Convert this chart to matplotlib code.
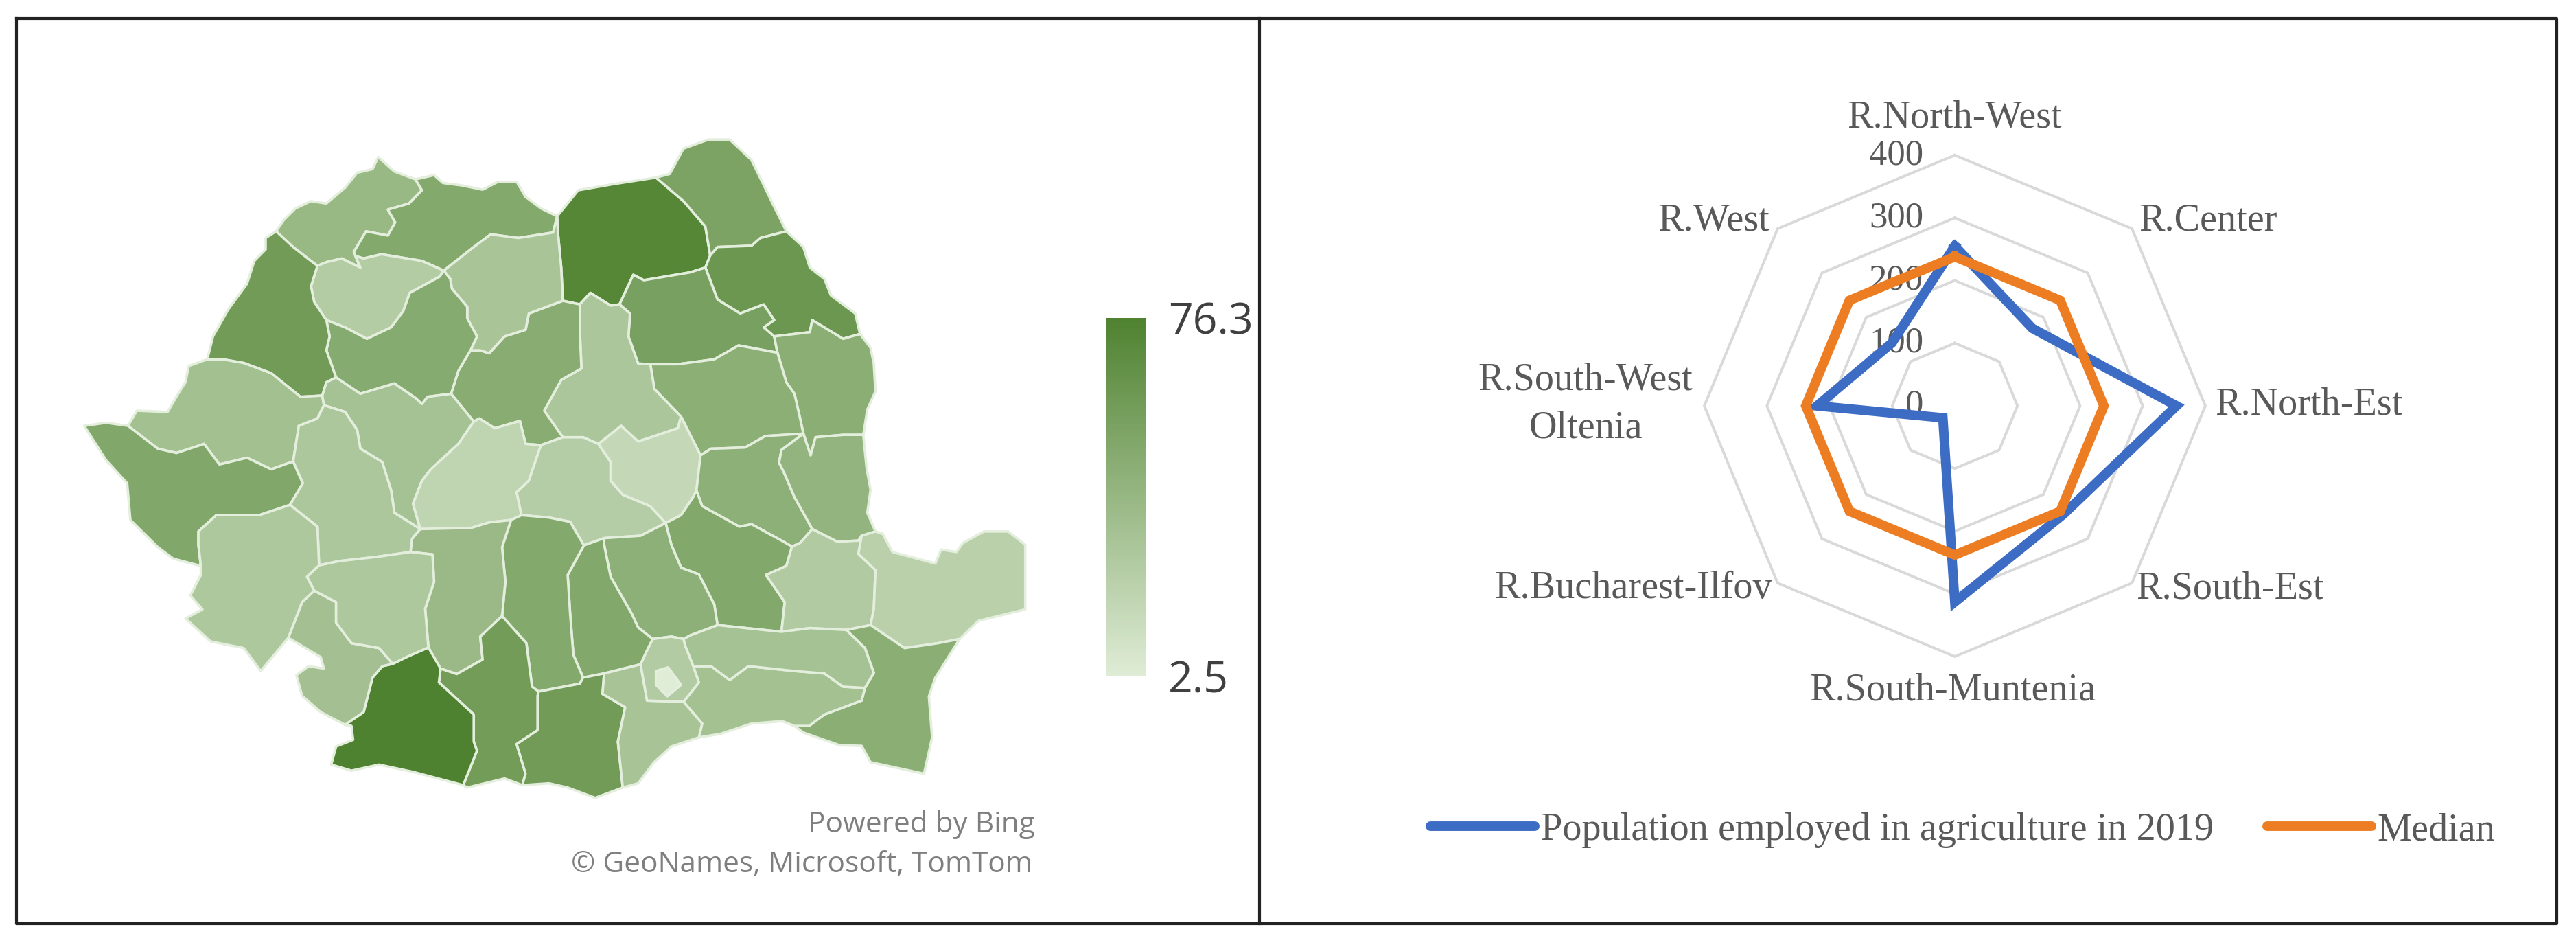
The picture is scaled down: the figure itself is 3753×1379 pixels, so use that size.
import numpy as np
import matplotlib
matplotlib.use("Agg")
import matplotlib.pyplot as plt
from matplotlib.colors import LinearSegmentedColormap, Normalize
from matplotlib.cm import ScalarMappable
from matplotlib.patches import Polygon

W, H = 3753, 1379
plt.rcParams['font.family'] = ['Liberation Serif', 'DejaVu Serif']

# radar chart values
regions = ["R.North-West", "R.Center", "R.North-Est", "R.South-Est", "R.South-Muntenia",
           "R.Bucharest-Ilfov", "R.South-West\nOltenia", "R.West"]
employed = [255, 175, 354, 245, 313, 27, 220, 142]
median = [238, 238, 238, 238, 238, 238, 238, 238]
rings = [100, 200, 300, 400]
radial_ticks = [0, 100, 200, 300, 400]

# map values, per county
scale_low, scale_high = 2.5, 76.3
county_names = ["Satu Mare", "Maramures", "Suceava", "Botosani", "Iasi", "Neamt", "Vaslui", "Bacau",
                "Harghita", "Mures", "Bistrita-Nasaud", "Salaj", "Cluj", "Bihor", "Arad", "Timis",
                "Alba", "Hunedoara", "Sibiu", "Brasov", "Covasna", "Vrancea", "Galati", "Buzau",
                "Braila", "Tulcea", "Constanta", "Calarasi", "Ialomita", "Prahova", "Dambovita",
                "Arges", "Valcea", "Olt", "Teleorman", "Giurgiu", "Ilfov", "Bucuresti", "Dolj",
                "Mehedinti", "Gorj", "Caras-Severin"]
county_values = [39, 49, 73, 53, 61.5, 55, 45.5, 45,
                 29, 47, 30, 25, 48, 59, 33.5, 50.5,
                 32, 28, 19, 24, 16.5, 44.5, 41.5, 50,
                 26, 22, 46, 32.5, 32, 44.5, 50,
                 49, 38, 58, 59, 30.5, 25.5, 2.5, 76.3,
                 33, 27.5, 27.5]
# each county is a ring of border junctions, same order as county_names
county_rings = [
    "A B C F", "B D E C", "D M N Q R S L", "M O N", "N O P T Q", "Q T U V R", "T P BF BE U", "V U BE BC Y",
    "S R V Y BA Z", "L S Z AA AB K J", "D L J E", "F C E G", "G E J K I", "A F G I BB AE", "AE BB AD AG AF",
    "AF AG AI AH", "I K AB AC AD BB", "AD AC AM AK AI AG", "AB AA AV AT AC", "Z BA AY AX AW AV AA",
    "BA Y BC BD AY", "BC BE BG BV BD", "BE BF BJ BI BG", "AY BD BV BU BT", "BG BI BL BN BU BV",
    "BJ BK BL BI", "BL BK BM BO BN", "BR BO BM BP BQ", "BS BT BU BN BO BR", "AX AY BT BS BW",
    "AW AX BW BZ BY BX", "AV AW BX AU AR AT", "AC AT AR AS AN AM", "AR AU CA AQ AS", "AU BX BY CB CA",
    "BY BZ BQ BP CB", "BW BS BR BQ BZ", "X1 X2 X3 X4 X5", "AO AN AS AQ AP", "AL AO AP AJ",
    "AK AM AN AO AL", "AI AK AL AJ AH",
]
# x and y on a 1568 x 1568 grid laid over the left panel
junctions = {
    "A": (341,383), "B": (513,297), "C": (439,424), "D": (688,358), "E": (548,448), "F": (392,440),
    "G": (403,530), "I": (415,625), "J": (581,580), "K": (557,652), "L": (695,498), "M": (810,294),
    "N": (877,423), "O": (971,383), "P": (1062,553), "Q": (871,443), "R": (765,504), "S": (716,504),
    "T": (956,557), "U": (960,584), "V": (803,603), "Y": (841,690), "Z": (695,724), "AA": (668,737),
    "AB": (585,698), "AC": (519,876), "AD": (400,671), "BB": (398,655), "AE": (256,595), "AF": (158,705),
    "AG": (362,764), "AH": (248,937), "AI": (358,836), "AJ": (356,1056), "AK": (394,936), "AL": (388,978),
    "AM": (507,914), "AN": (529,1072), "AO": (485,1099), "AP": (426,1200), "AQ": (572,1300), "AR": (620,1020),
    "AS": (544,1107), "AT": (631,861), "AU": (665,1145), "AV": (644,853), "AW": (721,903), "AX": (746,891),
    "AY": (822,866), "BA": (739,735), "BC": (865,754), "BD": (860,812), "BE": (992,718), "BF": (1066,720),
    "BG": (1003,876), "BI": (1064,887), "BJ": (1081,880), "BK": (1185,1058), "BL": (1075,1035), "BM": (981,1202),
    "BN": (1045,1043), "BO": (1068,1139), "BP": (863,1221), "BQ": (844,1162), "BR": (856,1103), "BS": (844,1058),
    "BT": (886,1035), "BU": (965,1046), "BV": (978,905), "BW": (806,1058), "BX": (720,1122), "BY": (746,1115),
    "BZ": (791,1100), "CA": (645,1300), "CB": (769,1304),
    "X1": (810,1111), "X2": (825,1105), "X3": (841,1134), "X4": (824,1153), "X5": (810,1134),
}
borders = {
    ("A","B"): [(350,365),(365,345),(384,333),(403,337),(426,311),(441,286),(460,280),(467,260),(487,284)],
    ("B","C"): [(521,315),(505,337),(479,347),(488,368),(479,390),(452,383),(437,417)],
    ("C","F"): [(445,443),(422,428),(403,434)],
    ("F","A"): [(384,432),(362,409)],
    ("B","D"): [(536,290),(547,303),(570,307),(596,314),(615,301),(638,301),(649,326),(668,345)],
    ("D","E"): [(683,385),(640,394),(606,388),(585,409),(565,430)],
    ("E","C"): [(521,432),(471,421),(449,428)],
    ("F","G"): [(384,474),(388,500)],
    ("G","E"): [(426,542),(453,561),(483,542),(498,515),(506,485),(543,458)],
    ("G","I"): [(407,557),(403,580)],
    ("E","J"): [(556,462),(558,478),(577,508),(577,527),(589,557)],
    ("J","K"): [(566,614)],
    ("I","K"): [(445,652),(487,635),(513,659),(521,669),(528,657)],
    ("J","L"): [(593,580),(604,585),(623,557),(649,546),(653,519)],
    ("D","L"): [(689,386),(693,443)],
    ("D","M"): [(714,315),(757,305)],
    ("M","N"): [(844,333),(871,375)],
    ("M","O"): [(827,288),(844,246),(875,231),(901,231),(928,265),(954,337)],
    ("N","O"): [(886,409),(928,407),(939,394)],
    ("O","P"): [(992,409),(1000,443),(1018,462),(1026,489),(1056,519)],
    ("Q","R"): [(852,451),(795,464),(782,455)],
    ("R","S"): [(754,506),(729,485)],
    ("Q","T"): [(886,496),(914,519),(943,504),(956,530),(943,542)],
    ("T","P"): [(1000,550),(1003,530),(1041,561)],
    ("U","V"): [(912,572),(882,595),(837,603)],
    ("R","V"): [(778,519),(776,557),(788,602)],
    ("S","Z"): [(716,549),(718,610),(693,629),(672,680)],
    ("V","Y"): [(808,644)],
    ("U","BE"): [(971,633),(981,652),(988,693)],
    ("P","BF"): [(1075,576),(1079,602),(1081,648),(1071,678)],
    ("BE","BF"): [(1001,754),(1007,724),(1041,720)],
    ("BE","BC"): [(945,722),(920,741),(878,743)],
    ("Y","BA"): [(837,709),(788,731),(767,705)],
    ("BA","Z"): [(720,724)],
    ("AA","AB"): [(649,735),(642,697),(611,709),(592,693)],
    ("AB","AC"): [(566,735),(532,777),(521,796),(510,834)],
    ("AC","AD"): [(487,849),(483,812),(472,765),(445,743),(441,712),(426,682)],
    ("AC","AM"): [(509,892)],
    ("I","BB"): [(403,633)],
    ("BB","AE"): [(371,657),(335,618),(301,601),(275,595)],
    ("A","AE"): [(328,394),(328,413),(314,432),(305,470),(282,512),(263,557)],
    ("AE","AF"): [(233,606),(229,633),(220,652),(207,682),(169,680)],
    ("AF","AG"): [(195,743),(218,750),(252,735),(271,769),(305,758),(335,777)],
    ("AD","AG"): [(392,693),(369,705)],
    ("AF","AH"): [(131,700),(104,705),(131,762),(157,800),(161,861),(195,906),(214,925)],
    ("AG","AI"): [(374,800)],
    ("AI","AH"): [(320,853),(267,853),(245,880),(245,902)],
    ("AI","AK"): [(392,872)],
    ("AK","AL"): [(379,955)],
    ("AL","AJ"): [(373,997)],
    ("AH","AJ"): [(248,952),(235,986),(250,1009),(229,1024),(260,1062),(301,1073),(322,1111)],
    ("AK","AM"): [(419,929),(465,922)],
    ("AM","AN"): [(534,918),(536,963),(525,1008)],
    ("AL","AO"): [(415,997),(415,1031),(434,1065),(468,1073)],
    ("AO","AN"): [(505,1086)],
    ("AJ","AP"): [(396,1088),(400,1107),(381,1103),(366,1118),(373,1152),(396,1179)],
    ("AP","AO"): [(449,1179),(460,1122),(472,1103)],
    ("AP","AQ"): [(434,1202),(436,1225),(415,1236),(409,1266),(434,1276),(468,1266),(510,1278)],
    ("AS","AQ"): [(542,1130),(585,1183),(585,1228),(589,1243)],
    ("AS","AR"): [(564,1116),(596,1092),(593,1054)],
    ("AT","AR"): [(620,906),(624,963)],
    ("AC","AT"): [(582,874),(604,865)],
    ("AR","AU"): [(650,1065),(657,1137)],
    ("AA","AV"): [(653,796),(638,815)],
    ("AV","AW"): [(678,857),(704,864)],
    ("AX","AY"): [(791,887)],
    ("BA","AY"): [(754,765),(754,796),(769,819),(803,838)],
    ("BD","AY"): [(856,823),(841,853)],
    ("BE","BG"): [(965,745),(962,766),(969,785),(981,823)],
    ("BG","BI"): [(1034,897),(1060,895)],
    ("BF","BJ"): [(1070,774),(1075,811),(1071,849)],
    ("BJ","BK"): [(1090,884),(1102,914),(1155,933),(1162,910),(1181,914),(1189,899),(1215,880),(1245,880),(1266,902),(1266,1009),(1208,1028)],
    ("BI","BL"): [(1060,917),(1081,944),(1079,1009)],
    ("BL","BK"): [(1117,1073),(1158,1065)],
    ("BK","BM"): [(1155,1122),(1147,1153),(1151,1221),(1141,1281),(1075,1262),(1064,1235),(1037,1234),(992,1213)],
    ("BN","BO"): [(1068,1073),(1079,1114)],
    ("BO","BM"): [(1064,1160),(1018,1183),(999,1202)],
    ("BM","BP"): [(966,1194),(928,1198),(890,1215)],
    ("BP","BQ"): [(867,1198)],
    ("BQ","BR"): [(863,1130)],
    ("BR","BO"): [(878,1103),(901,1126),(924,1103),(981,1111),(1018,1115),(1041,1137)],
    ("BR","BS"): [(846,1069)],
    ("BS","BT"): [(852,1052)],
    ("BT","BU"): [(950,1044)],
    ("BU","BN"): [(1000,1040)],
    ("BU","BV"): [(969,997),(946,952),(971,937)],
    ("BG","BV"): [(988,899)],
    ("BV","BD"): [(965,895),(928,868),(913,872),(867,838)],
    ("AY","BT"): [(829,902),(841,940),(863,951),(882,1001)],
    ("AX","BW"): [(746,902),(754,955),(780,1016),(788,1039)],
    ("BW","BS"): [(829,1054)],
    ("AW","BX"): [(701,952),(704,1016),(708,1084)],
    ("BW","BZ"): [(799,1077)],
    ("BZ","BQ"): [(799,1160)],
    ("BX","AU"): [(716,1132)],
    ("AU","CA"): [(664,1152),(664,1209),(638,1232),(649,1281)],
    ("AQ","CA"): [(577,1304),(623,1289)],
    ("BY","CB"): [(744,1149),(772,1171),(763,1228)],
    ("CA","CB"): [(678,1297),(701,1304),(735,1321)],
    ("CB","BP"): [(788,1297),(807,1263),(829,1236)],
}

def outline(ring):
    nodes = ring.split()
    pts = []
    for u, v in zip(nodes, nodes[1:] + nodes[:1]):
        pts.append(junctions[u])
        if (u, v) in borders:
            pts += borders[(u, v)]
        elif (v, u) in borders:
            pts += borders[(v, u)][::-1]
    return pts

fig = plt.figure(figsize=(W / 100, H / 100), dpi=100, facecolor="white")

def px_axes(x0, y0, x1, y1, **kw):
    # axes from pixel box, y measured from the top
    return fig.add_axes([x0 / W, 1 - y1 / H, (x1 - x0) / W, (y1 - y0) / H], **kw)

# left panel, map
map_ax = px_axes(0, 0, 1850, H)
map_ax.set_xlim(0, 1568)
map_ax.set_ylim(1568, 0)
map_ax.axis("off")

cmap = LinearSegmentedColormap.from_list("greens_xl", ["#dfecd6", "#4f8230"])
norm = Normalize(scale_low, scale_high)
for name, value, ring in zip(county_names, county_values, county_rings):
    map_ax.add_patch(Polygon(outline(ring), closed=True, facecolor=cmap(norm(value)),
                             edgecolor="#e4eedd", linewidth=2.6, joinstyle="round", label=name))

map_font = ['Open Sans', 'DejaVu Sans']
map_ax.text(1278, 1365, "Powered by Bing", ha="right", va="center", color="#7f7f7f",
            fontsize=30.5, family=map_font)
map_ax.text(1275, 1432, "© GeoNames, Microsoft, TomTom", ha="right", va="center", color="#7f7f7f",
            fontsize=30.5, family=map_font)

# colour scale
bar_ax = px_axes(1611, 463, 1670, 985)
cbar = fig.colorbar(ScalarMappable(norm=norm, cmap=cmap), cax=bar_ax)
cbar.outline.set_visible(False)
cbar.set_ticks([scale_low, scale_high], labels=["2.5", "76.3"])
cbar.ax.tick_params(length=0, pad=23, labelsize=45, labelcolor="#404040")
for lab in cbar.ax.get_yticklabels():
    lab.set_family(map_font)

# right panel, radar
cx, cy, R = 2848, 591, 365
radar = px_axes(cx - R, cy - R, cx + R, cy + R, projection="polar")
radar.set_theta_zero_location("N")
radar.set_theta_direction(-1)
radar.set_ylim(0, 400)
radar.axis("off")
radar.patch.set_visible(False)

angles = np.linspace(0, 2 * np.pi, len(regions), endpoint=False)
closed = np.append(angles, angles[0])

def close(vals):
    return list(vals) + [vals[0]]

for r in rings:
    radar.plot(closed, close([r] * len(regions)), color="#d9d9d9", lw=2.8, zorder=1, clip_on=False)
for tick in radial_ticks:
    radar.annotate(str(tick), (0, tick), xytext=(-33, 0), textcoords="offset points", ha="right",
                   va="center", fontsize=38, color="#595959", zorder=2, annotation_clip=False)

line_emp, = radar.plot(closed, close(employed), color="#3d6cc4", lw=10, zorder=3, solid_joinstyle="miter",
                       label="Population employed in agriculture in 2019")
line_med, = radar.plot(closed, close(median), color="#ed7d22", lw=10, zorder=4, solid_joinstyle="miter",
                       label="Median")

# category labels, offset is in px from the centre of the chart
label_spots = [(0, -420, "center"), (268, -270, "left"), (379, -2, "left"), (264, 266, "left"),
               (-3, 415, "center"), (-266, 266, "right"), (-538, -2, "center"), (-270, -270, "right")]
for text, (dx, dy, ha) in zip(regions, label_spots):
    fig.text((cx + dx) / W, 1 - (cy + dy) / H, text, ha=ha, va="center", fontsize=40.5, color="#595959",
             linespacing=1.45)

# legend
leg = fig.legend(handles=[line_emp, line_med], loc="center", bbox_to_anchor=(2860 / W, 1 - 1209 / H), ncol=2,
                 frameon=False, fontsize=40.5, labelcolor="#595959", handlelength=2.7, handletextpad=0.15,
                 columnspacing=1.4)
for handle in leg.get_lines():
    handle.set_solid_capstyle("round")

# panel frame
frame = px_axes(0, 0, W, H, zorder=10)
frame.set_xlim(0, W)
frame.set_ylim(H, 0)
frame.axis("off")
frame.plot([24, 3725, 3725, 24, 24], [27, 27, 1345, 1345, 27], color="#222222", lw=3, clip_on=False)
frame.plot([1835, 1835], [27, 1345], color="#222222", lw=3)

fig.savefig("out.png", dpi=100)
